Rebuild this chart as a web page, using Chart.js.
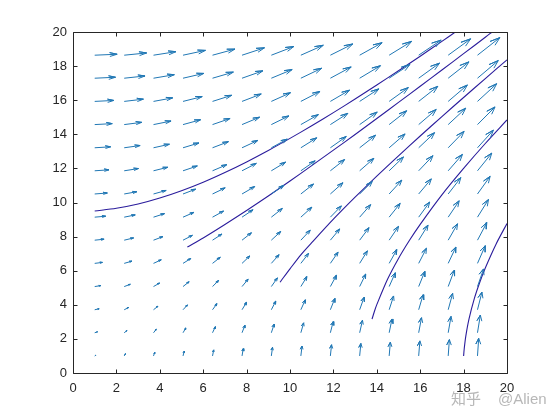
<!DOCTYPE html>
<html>
<head>
<meta charset="utf-8">
<script src="https://cdn.jsdelivr.net/npm/chart.js@4.4.0/dist/chart.umd.min.js"></script>
<style>
    html, body { margin: 0; padding: 0; background: #fff; }
    #wrap { width: 560px; height: 420px; }
</style>
</head>
<body>
<div id="wrap"><canvas id="quiverChart" width="560" height="420"></canvas></div>
<script>
// arrow tail positions (columns and rows of the grid)
var gridX = [1.00, 2.36, 3.71, 5.07, 6.43, 7.79, 9.14, 10.50, 11.86, 13.21, 14.57, 15.93, 17.29, 18.64];
var gridY = [1.00, 2.36, 3.71, 5.07, 6.43, 7.79, 9.14, 10.50, 11.86, 13.21, 14.57, 15.93, 17.29, 18.64];

// field: horizontal part grows with the row, vertical part with the column
var rowU = [1.00, 2.36, 3.71, 5.07, 6.43, 7.79, 9.14, 10.50, 11.86, 13.21, 14.57, 15.93, 17.29, 18.64];
var colV = [1.00, 2.36, 3.71, 5.07, 6.43, 7.79, 9.14, 10.50, 11.86, 13.21, 14.57, 15.93, 17.29, 18.64];
var arrowScale = 0.0555;

// streamlines, points
var stream1X = [1, 2, 3, 4, 5, 6, 7, 8, 9, 10, 11, 12, 13, 14, 15, 16, 17, 17.62];
var stream1Y = [9.50, 9.66, 9.91, 10.26, 10.69, 11.19, 11.76, 12.38, 13.05, 13.76, 14.50, 15.27, 16.07, 16.89, 17.73, 18.58, 19.45, 20.0];

var stream2X = [5.27, 6, 7, 8, 9, 10, 11, 12, 13, 14, 15, 16, 17, 18, 19, 19.31];
var stream2Y = [7.39, 7.92, 8.71, 9.53, 10.38, 11.26, 12.16, 13.07, 13.99, 14.93, 15.87, 16.82, 17.77, 18.73, 19.69, 20.0];

var stream3X = [9.54, 9.7, 10, 10.5, 11, 12, 13, 14, 15, 16, 17, 18, 19, 20];
var stream3Y = [5.32, 5.60, 6.11, 6.93, 7.64, 9.02, 10.31, 11.55, 12.74, 13.90, 15.04, 16.16, 17.27, 18.37];

var stream4X = [13.78, 13.9, 14, 14.5, 15, 15.5, 16, 17, 18, 19, 20];
var stream4Y = [3.16, 3.65, 4.01, 5.51, 6.72, 7.77, 8.72, 10.45, 12.00, 13.46, 14.84];

var stream5X = [18.0, 18.03, 18.1, 18.25, 18.5, 18.75, 19.0, 19.5, 20.0];
var stream5Y = [1.0, 1.44, 2.15, 3.17, 4.39, 5.34, 6.16, 7.57, 8.77];

var axisMin = 0;
var axisMax = 20;
var tickStep = 2;

function buildArrows() {
    var pts = [];
    var alpha = 0.33, beta = 0.33;
    for (var i = 0; i < gridY.length; i++) {
        for (var j = 0; j < gridX.length; j++) {
            var x = gridX[j], y = gridY[i];
            var u = rowU[i] * arrowScale;
            var v = colV[j] * arrowScale;
            var tx = x + u, ty = y + v;
            pts.push({x: x, y: y});
            pts.push({x: tx, y: ty});
            pts.push({x: tx - alpha * (u + beta * v), y: ty - alpha * (v - beta * u)});
            pts.push({x: tx, y: ty});
            pts.push({x: tx - alpha * (u - beta * v), y: ty - alpha * (v + beta * u)});
            pts.push({x: null, y: null});
        }
    }
    return pts;
}

function pairUp(xs, ys) {
    var out = [];
    for (var i = 0; i < xs.length; i++) {
        out.push({x: xs[i], y: ys[i]});
    }
    return out;
}

function streamSet(xs, ys) {
    return {
        data: pairUp(xs, ys),
        showLine: true,
        borderColor: '#2a1c9c',
        borderWidth: 1.1,
        pointRadius: 0,
        tension: 0.3,
        fill: false
    };
}

var frame = {
    id: 'frame',
    afterDatasetsDraw: function(chart) {
        var ctx = chart.ctx;
        var a = chart.chartArea;
        var xs = chart.scales.x, ys = chart.scales.y;
        var L = Math.round(a.left) + 0.5, R = Math.round(a.right) + 0.5;
        var T = Math.round(a.top) + 0.5, B = Math.round(a.bottom) + 0.5;
        ctx.save();
        ctx.strokeStyle = '#262626';
        ctx.lineWidth = 1;
        ctx.beginPath();
        ctx.moveTo(L, T); ctx.lineTo(R, T); ctx.lineTo(R, B); ctx.lineTo(L, B); ctx.closePath();
        xs.ticks.forEach(function(t) {
            var px = Math.round(xs.getPixelForValue(t.value)) + 0.5;
            ctx.moveTo(px, B); ctx.lineTo(px, B - 4);
            ctx.moveTo(px, T); ctx.lineTo(px, T + 4);
        });
        ys.ticks.forEach(function(t) {
            var py = Math.round(ys.getPixelForValue(t.value)) + 0.5;
            ctx.moveTo(L, py); ctx.lineTo(L + 4, py);
            ctx.moveTo(R, py); ctx.lineTo(R - 4, py);
        });
        ctx.stroke();

        // watermark
        ctx.fillStyle = 'rgba(170,170,170,0.85)';
        ctx.textBaseline = 'alphabetic';
        ctx.font = '15px "Noto Sans CJK SC"';
        ctx.fillText('知乎', 451, 404);
        ctx.font = '15px "Liberation Sans"';
        ctx.fillText('@Alien', 498, 404);
        ctx.restore();
    }
};

var datasets = [{
    data: buildArrows(),
    showLine: true,
    spanGaps: false,
    borderColor: '#2077b4',
    borderWidth: 1,
    pointRadius: 0,
    tension: 0,
    fill: false
}];
datasets.push(streamSet(stream1X, stream1Y));
datasets.push(streamSet(stream2X, stream2Y));
datasets.push(streamSet(stream3X, stream3Y));
datasets.push(streamSet(stream4X, stream4Y));
datasets.push(streamSet(stream5X, stream5Y));

var tickFont = {family: '"Liberation Sans", Arial, sans-serif', size: 13};

var ctx = document.querySelector('#quiverChart').getContext('2d');
var quiverChart = new Chart(ctx, {
    type: 'scatter',
    data: {datasets: datasets},
    options: {
        responsive: false,
        animation: false,
        events: [],
        layout: {padding: {left: 0, right: 53, top: 32, bottom: 0}},
        plugins: {legend: {display: false}, tooltip: {enabled: false}},
        scales: {
            x: {
                type: 'linear',
                min: axisMin,
                max: axisMax,
                grid: {display: false, drawTicks: false},
                border: {display: false},
                ticks: {stepSize: tickStep, color: '#262626', font: tickFont, padding: 8, maxRotation: 0},
                afterFit: function(scale) { scale.height = 47; }
            },
            y: {
                type: 'linear',
                min: axisMin,
                max: axisMax,
                grid: {display: false, drawTicks: false},
                border: {display: false},
                ticks: {stepSize: tickStep, color: '#262626', font: tickFont, padding: 6},
                afterFit: function(scale) { scale.width = 73; }
            }
        }
    },
    plugins: [frame]
});
</script>
</body>
</html>
